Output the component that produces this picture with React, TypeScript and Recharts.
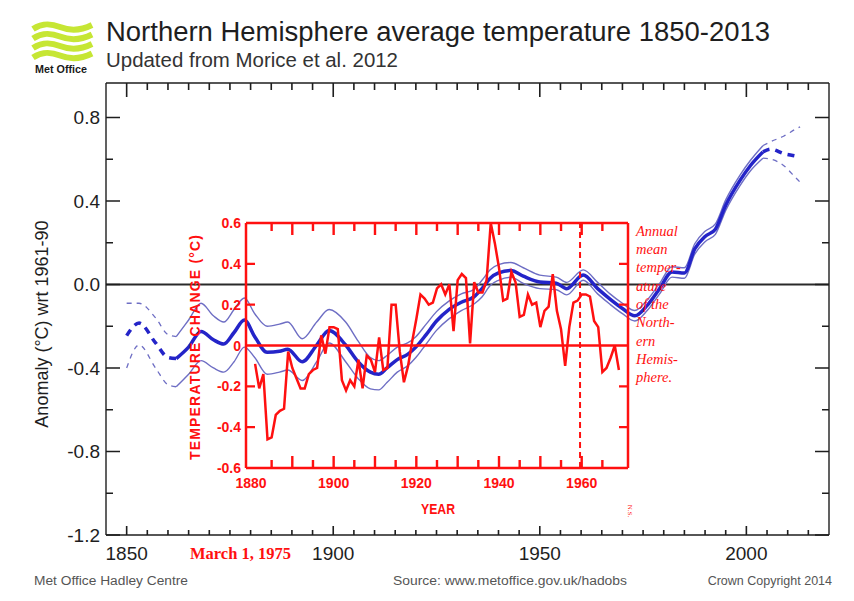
import React from "react";
import { LineChart, Line, XAxis, YAxis, ReferenceLine } from "recharts";

const W = 854;
const H = 601;

const INK = "#1e1e1e";
const BLUE = "#2424c8";
const BAND = "#6e6ec4";
const RED = "#ff1010";
const LIME = "#c6e634";
const SANS = "'Liberation Sans', Arial, Helvetica, sans-serif";
const SERIF = "'Liberation Serif', 'Times New Roman', serif";

// Smoothed NH anomaly (°C wrt 1961-90) with its uncertainty band
const YEARS = [
  1850, 1853, 1857, 1860, 1862, 1865, 1868, 1871, 1873.5, 1876, 1878.5, 1881, 1884, 1887, 1889, 1892.5, 1896,
  1899, 1903, 1906, 1909, 1911, 1913, 1915.5, 1918, 1920, 1922.5, 1925, 1928, 1931, 1934, 1936, 1938, 1940, 1943,
  1946, 1950, 1954, 1956.5, 1960.5, 1964, 1967, 1970, 1973, 1976, 1979, 1982, 1985, 1987.5, 1990, 1992.5, 1995,
  1998.5, 2001, 2004, 2006, 2009, 2012, 2013,
];
const CENTRAL = [
  -0.245, -0.185, -0.28, -0.35, -0.355, -0.3, -0.225, -0.265, -0.285, -0.23, -0.17, -0.25, -0.325, -0.32, -0.31,
  -0.37, -0.29, -0.22, -0.29, -0.37, -0.42, -0.43, -0.4, -0.36, -0.335, -0.3, -0.24, -0.175, -0.12, -0.085, -0.06,
  -0.02, 0.03, 0.055, 0.067, 0.04, 0.012, 0.006, -0.02, 0.045, -0.02, -0.07, -0.115, -0.15, -0.1, -0.02, 0.06,
  0.055, 0.17, 0.23, 0.265, 0.38, 0.5, 0.57, 0.635, 0.648, 0.627, 0.615, 0.61,
];
const UPPER = [
  -0.09, -0.09, -0.16, -0.24, -0.25, -0.17, -0.09, -0.15, -0.18, -0.12, -0.065, -0.14, -0.2, -0.19, -0.18, -0.26,
  -0.18, -0.12, -0.18, -0.27, -0.35, -0.365, -0.34, -0.3, -0.28, -0.25, -0.19, -0.13, -0.08, -0.045, -0.025, 0.02,
  0.07, 0.095, 0.105, 0.08, 0.045, 0.035, 0.01, 0.07, 0.01, -0.045, -0.09, -0.125, -0.075, 0.005, 0.085, 0.08,
  0.195, 0.255, 0.29, 0.405, 0.525, 0.595, 0.665, 0.685, 0.71, 0.745, 0.755,
];
const LOWER = [
  -0.4, -0.29, -0.4, -0.48, -0.49, -0.43, -0.365, -0.4, -0.42, -0.37, -0.3, -0.35, -0.43, -0.42, -0.41, -0.46,
  -0.37, -0.28, -0.37, -0.45, -0.5, -0.505, -0.47, -0.42, -0.39, -0.35, -0.285, -0.22, -0.165, -0.125, -0.095,
  -0.06, -0.005, 0.02, 0.035, 0.005, -0.02, -0.025, -0.05, 0.02, -0.045, -0.095, -0.14, -0.175, -0.125, -0.045,
  0.035, 0.03, 0.145, 0.205, 0.24, 0.355, 0.475, 0.545, 0.605, 0.6, 0.57, 0.51, 0.49,
];
// sparse-coverage ends are drawn dashed
const EARLY_END = 1862;
const LATE_START = 2004;

const MAIN_X_DOMAIN = [1845, 2020];
const MAIN_Y_DOMAIN = [-1.2, 0.965];
const MAIN_X_TICKS = [
  1850, 1855, 1860, 1865, 1870, 1875, 1880, 1885, 1890, 1895, 1900, 1905, 1910, 1915, 1920, 1925, 1930, 1935, 1940,
  1945, 1950, 1955, 1960, 1965, 1970, 1975, 1980, 1985, 1990, 1995, 2000, 2005, 2010, 2015,
];
const MAIN_X_LABELS = [1850, 1900, 1950, 2000];
const MAIN_Y_TICKS = [-1.2, -1.0, -0.8, -0.6, -0.4, -0.2, 0, 0.2, 0.4, 0.6, 0.8];

// 1975 annual mean series, 1881-1969
const RED_FIRST_YEAR = 1881;
const RED_VALUES = [
  -0.09, -0.21, -0.14, -0.46, -0.45, -0.34, -0.32, -0.31, -0.03, -0.11,
  -0.16, -0.21, -0.21, -0.14, -0.12, -0.11, 0.05, -0.04, 0.09, 0.09,
  0.08, -0.17, -0.22, -0.17, -0.2, -0.07, -0.21, -0.05, -0.07, -0.13,
  0.04, -0.12, -0.11, 0.2, 0.2, -0.03, -0.18, -0.1, 0.02, 0.13,
  0.25, 0.23, 0.2, 0.21, 0.28, 0.3, 0.25, 0.3, 0.07, 0.32,
  0.35, 0.33, 0.01, 0.31, 0.26, 0.26, 0.32, 0.6, 0.5, 0.38,
  0.22, 0.23, 0.36, 0.31, 0.14, 0.15, 0.25, 0.2, 0.21, 0.09,
  0.17, 0.19, 0.35, 0.17, 0.08, -0.1, 0.09, 0.21, 0.22, 0.25,
  0.25, 0.24, 0.12, 0.09, -0.13, -0.11, -0.06, 0.0, -0.12,
];
const INSET_X_DOMAIN = [1878.8, 1971.2];
const INSET_Y_DOMAIN = [-0.6, 0.6];
const INSET_X_TICKS = [1880, 1900, 1920, 1940, 1960];
const INSET_X_STUBS = [
  1885, 1890, 1895, 1900, 1905, 1910, 1915, 1920, 1925, 1930, 1935, 1940, 1945, 1950, 1955, 1960, 1965,
];
const INSET_Y_TICKS = [-0.6, -0.4, -0.2, 0, 0.2, 0.4, 0.6];
const INSET_Y_LABELS = ["-0.6", "-0.4", "-0.2", "0", "0.2", "0.4", "0.6"];
const INSET_Y_STUBS = [-0.4, -0.2, 0.2, 0.4];
const MARKER_YEAR = 1959.6;

const NOTE_LINES = ["Annual", "mean", "temper-", "ature", "of the", "North-", "ern", "Hemis-", "phere."];

// plot boxes in page pixels (chart margins are derived from these)
type Box = { left: number; right: number; top: number; bottom: number };
const MAIN_BOX: Box = { left: 106, right: 829, top: 83, bottom: 535 };
const INSET_BOX: Box = { left: 246, right: 628, top: 223, bottom: 468 };

const pick = (year: number, v: number, lo: number, hi: number) => (year >= lo && year <= hi ? v : null);

const mainRows = YEARS.map((year, i) => ({
  year,
  cEarly: pick(year, CENTRAL[i], 0, EARLY_END),
  cMid: pick(year, CENTRAL[i], EARLY_END, LATE_START),
  cLate: pick(year, CENTRAL[i], LATE_START, 9999),
  uEarly: pick(year, UPPER[i], 0, EARLY_END),
  uMid: pick(year, UPPER[i], EARLY_END, LATE_START),
  uLate: pick(year, UPPER[i], LATE_START, 9999),
  lEarly: pick(year, LOWER[i], 0, EARLY_END),
  lMid: pick(year, LOWER[i], EARLY_END, LATE_START),
  lLate: pick(year, LOWER[i], LATE_START, 9999),
}));

const redRows = RED_VALUES.map((v, i) => ({ year: RED_FIRST_YEAR + i, t: v }));

const isMajorY = (v: number) => Math.round(v * 10) % 4 === 0;

// Inward tick marks on all four sides of a frame. Same linear mapping as the
// chart's own axes (the chart's plot box is exactly `box`).
function FrameTicks({ box, xDom, yDom, xTicks, yTicks, xLen, yLen, color, width }: {
  box: Box; xDom: number[]; yDom: number[]; xTicks: number[]; yTicks: number[];
  xLen: (v: number, top: boolean) => number; yLen: (v: number) => number; color: string; width: number;
}) {
  const px = (v: number) => box.left + ((v - xDom[0]) / (xDom[1] - xDom[0])) * (box.right - box.left);
  const py = (v: number) => box.bottom - ((v - yDom[0]) / (yDom[1] - yDom[0])) * (box.bottom - box.top);
  let d = "";
  xTicks.forEach((v) => {
    const x = px(v).toFixed(2);
    d += `M${x},${box.bottom}v${-xLen(v, false)}M${x},${box.top}v${xLen(v, true)}`;
  });
  yTicks.forEach((v) => {
    const y = py(v).toFixed(2);
    d += `M${box.left},${y}h${yLen(v)}M${box.right},${y}h${-yLen(v)}`;
  });
  return <path d={d} stroke={color} strokeWidth={width} fill="none" />;
}

// ── tick labels (outside the frame) ──────────────────────────────────
function mainBottomLabel(props: any) {
  return (
    <text x={props.x} y={Number(props.y) + 25} textAnchor="middle" fontSize={19} fill={INK} stroke="none" fontFamily={SANS}>
      {props.payload.value}
    </text>
  );
}

function mainLeftLabel(props: any) {
  const v = props.payload.value as number;
  if (!isMajorY(v)) return <g />;
  return (
    <text x={Number(props.x) - 6} y={Number(props.y) + 7} textAnchor="end" fontSize={19} fill={INK} stroke="none" fontFamily={SANS}>
      {v.toFixed(1)}
    </text>
  );
}

function insetBottomLabel(props: any) {
  return (
    <text x={props.x} y={Number(props.y) + 20} textAnchor="middle" fontSize={14} fontWeight="bold" fill={RED} stroke="none" fontFamily={SANS}>
      {props.payload.value}
    </text>
  );
}

function insetLeftLabel(props: any) {
  return (
    <text x={Number(props.x) - 5} y={Number(props.y) + 5} textAnchor="end" fontSize={14} fontWeight="bold" fill={RED} stroke="none" fontFamily={SANS}>
      {INSET_Y_LABELS[props.index]}
    </text>
  );
}

const noTick = () => <g />;

function MetOfficeLogo() {
  return (
    <g>
      <g fill="none" stroke={LIME} strokeWidth={6} strokeLinecap="butt">
        {[0, 1, 2, 3].map((i) => {
          const b = 27 + i * 9.5;
          return <path key={i} d={`M33,${b + 2} C42,${b - 4} 50,${b - 4} 60,${b} S80,${b + 4} 92,${b - 2}`} />;
        })}
      </g>
      <text x={35} y={73} fontSize={10.8} fontWeight="bold" fill="#1a1a1a" fontFamily={SANS} textLength={52} lengthAdjust="spacingAndGlyphs">
        Met Office
      </text>
    </g>
  );
}

const marginFor = (b: Box) => ({ top: b.top - 1, right: W - b.right - 1, bottom: H - b.bottom - 1, left: b.left - 1 });

export default function App() {
  const frame = { stroke: INK, strokeWidth: 1.4 };
  const redFrame = { stroke: RED, strokeWidth: 2.5 };
  const axisBits = { tickSize: 0, tickMargin: 0, tickLine: false, allowDataOverflow: true, interval: 0 as const };
  // every axis is 1px deep, so the margins are 1px short of the plot edges
  return (
    <div style={{ position: "absolute", left: 0, top: 0, width: W, height: H, background: "#fff", overflow: "hidden" }}>
      {/* Met Office NH series */}
      <div style={{ position: "absolute", left: 0, top: 0 }}>
        <LineChart width={W} height={H} data={mainRows} margin={marginFor(MAIN_BOX)}>
          <XAxis xAxisId="b" dataKey="year" type="number" domain={MAIN_X_DOMAIN} ticks={MAIN_X_LABELS} height={1}
            axisLine={frame} tick={mainBottomLabel} {...axisBits} />
          <XAxis xAxisId="t" dataKey="year" type="number" orientation="top" domain={MAIN_X_DOMAIN} height={1}
            axisLine={frame} tick={noTick} {...axisBits} />
          <YAxis yAxisId="l" type="number" domain={MAIN_Y_DOMAIN} ticks={MAIN_Y_TICKS} width={1}
            axisLine={frame} tick={mainLeftLabel} {...axisBits} />
          <YAxis yAxisId="r" type="number" orientation="right" domain={MAIN_Y_DOMAIN} width={1}
            axisLine={frame} tick={noTick} {...axisBits} />
          <ReferenceLine xAxisId="b" yAxisId="l" y={0} stroke="#2a2a2a" strokeWidth={2} />

          <Line xAxisId="b" yAxisId="l" type="monotone" dataKey="uEarly" stroke={BAND} strokeWidth={1.3} strokeDasharray="5 5" dot={false} isAnimationActive={false} />
          <Line xAxisId="b" yAxisId="l" type="monotone" dataKey="lEarly" stroke={BAND} strokeWidth={1.3} strokeDasharray="5 5" dot={false} isAnimationActive={false} />
          <Line xAxisId="b" yAxisId="l" type="monotone" dataKey="uMid" stroke={BAND} strokeWidth={1.4} dot={false} isAnimationActive={false} />
          <Line xAxisId="b" yAxisId="l" type="monotone" dataKey="lMid" stroke={BAND} strokeWidth={1.4} dot={false} isAnimationActive={false} />
          <Line xAxisId="b" yAxisId="l" type="monotone" dataKey="uLate" stroke={BAND} strokeWidth={1.3} strokeDasharray="5 5" dot={false} isAnimationActive={false} />
          <Line xAxisId="b" yAxisId="l" type="monotone" dataKey="lLate" stroke={BAND} strokeWidth={1.3} strokeDasharray="5 5" dot={false} isAnimationActive={false} />
          <Line xAxisId="b" yAxisId="l" type="monotone" dataKey="cEarly" stroke={BLUE} strokeWidth={3.5} strokeDasharray="7 6" dot={false} isAnimationActive={false} />
          <Line xAxisId="b" yAxisId="l" type="monotone" dataKey="cMid" stroke={BLUE} strokeWidth={3.5} dot={false} isAnimationActive={false} />
          <Line xAxisId="b" yAxisId="l" type="monotone" dataKey="cLate" stroke={BLUE} strokeWidth={3.5} strokeDasharray="7 6" dot={false} isAnimationActive={false} />
        </LineChart>
      </div>

      {/* 1975 inset, transparent over the main plot */}
      <div style={{ position: "absolute", left: 0, top: 0 }}>
        <LineChart width={W} height={H} data={redRows} margin={marginFor(INSET_BOX)}>
          <XAxis xAxisId="b" dataKey="year" type="number" domain={INSET_X_DOMAIN} ticks={INSET_X_TICKS} height={1}
            axisLine={redFrame} tick={insetBottomLabel} {...axisBits} />
          <XAxis xAxisId="t" dataKey="year" type="number" orientation="top" domain={INSET_X_DOMAIN} height={1}
            axisLine={redFrame} tick={noTick} {...axisBits} />
          <YAxis yAxisId="l" type="number" domain={INSET_Y_DOMAIN} ticks={INSET_Y_TICKS} width={1}
            axisLine={redFrame} tick={insetLeftLabel} {...axisBits} />
          <YAxis yAxisId="r" type="number" orientation="right" domain={INSET_Y_DOMAIN} width={1}
            axisLine={redFrame} tick={noTick} {...axisBits} />
          <ReferenceLine xAxisId="b" yAxisId="l" y={0} stroke={RED} strokeWidth={2.5} />
          <ReferenceLine xAxisId="b" yAxisId="l" x={MARKER_YEAR} stroke={RED} strokeWidth={2} strokeDasharray="6 4" />
          <Line xAxisId="b" yAxisId="l" type="linear" dataKey="t" stroke={RED} strokeWidth={2.5} dot={false} isAnimationActive={false} />
        </LineChart>
      </div>

      {/* frame ticks, titles, axis titles, notes and credits */}
      <svg width={W} height={H} style={{ position: "absolute", left: 0, top: 0, pointerEvents: "none" }}>
        <FrameTicks box={MAIN_BOX} xDom={MAIN_X_DOMAIN} yDom={MAIN_Y_DOMAIN} xTicks={MAIN_X_TICKS} yTicks={MAIN_Y_TICKS}
          xLen={(v, top) => (MAIN_X_LABELS.includes(v) ? (top ? 14 : 9) : top ? 7 : 5)}
          yLen={(v) => (isMajorY(v) ? 14 : 7)} color={INK} width={1.6} />
        <FrameTicks box={INSET_BOX} xDom={INSET_X_DOMAIN} yDom={INSET_Y_DOMAIN} xTicks={INSET_X_STUBS} yTicks={INSET_Y_STUBS}
          xLen={(v) => (v % 10 === 0 ? 12 : 8)} yLen={() => 9} color={RED} width={2.4} />

        <MetOfficeLogo />
        <text x={106} y={41} fontSize={27} fill={INK} fontFamily={SANS} textLength={664} lengthAdjust="spacingAndGlyphs">
          Northern Hemisphere average temperature 1850-2013
        </text>
        <text x={106} y={66.5} fontSize={20.5} fill="#333" fontFamily={SANS} textLength={292} lengthAdjust="spacingAndGlyphs">
          Updated from Morice et al. 2012
        </text>
        <text transform="translate(42,324) rotate(-90)" textAnchor="middle" dominantBaseline="central" fontSize={18} fill={INK} fontFamily={SANS}>
          Anomaly (°C) wrt 1961-90
        </text>

        <text transform="translate(195,347.5) rotate(-90)" textAnchor="middle" dominantBaseline="central" fontSize={14}
          fontWeight="bold" fill={RED} fontFamily={SANS} textLength={225} lengthAdjust="spacing">
          TEMPERATURE CHANGE (°C)
        </text>
        <text x={438} y={513.5} textAnchor="middle" fontSize={15} fontWeight="bold" fill={RED} fontFamily={SANS}
          textLength={34} lengthAdjust="spacingAndGlyphs">
          YEAR
        </text>
        <text transform="translate(630,511) rotate(90)" textAnchor="middle" dominantBaseline="central" fontSize={7} fill={RED} fontFamily={SERIF}>
          N.S.
        </text>
        {NOTE_LINES.map((line, i) => (
          <text key={line} x={636} y={235.7 + i * 18.3} fontSize={14.5} fontStyle="italic" fill={RED} fontFamily={SERIF}>
            {line}
          </text>
        ))}
        <text x={190} y={559} fontSize={17} fontWeight="bold" fill={RED} fontFamily={SERIF} textLength={101} lengthAdjust="spacingAndGlyphs">
          March 1, 1975
        </text>

        <text x={34} y={585} fontSize={12.5} fill="#555" fontFamily={SANS} textLength={154} lengthAdjust="spacingAndGlyphs">
          Met Office Hadley Centre
        </text>
        <text x={393} y={585} fontSize={12.5} fill="#555" fontFamily={SANS} textLength={234} lengthAdjust="spacingAndGlyphs">
          Source: www.metoffice.gov.uk/hadobs
        </text>
        <text x={832} y={585} textAnchor="end" fontSize={12.5} fill="#555" fontFamily={SANS}>
          Crown Copyright 2014
        </text>
      </svg>
    </div>
  );
}
